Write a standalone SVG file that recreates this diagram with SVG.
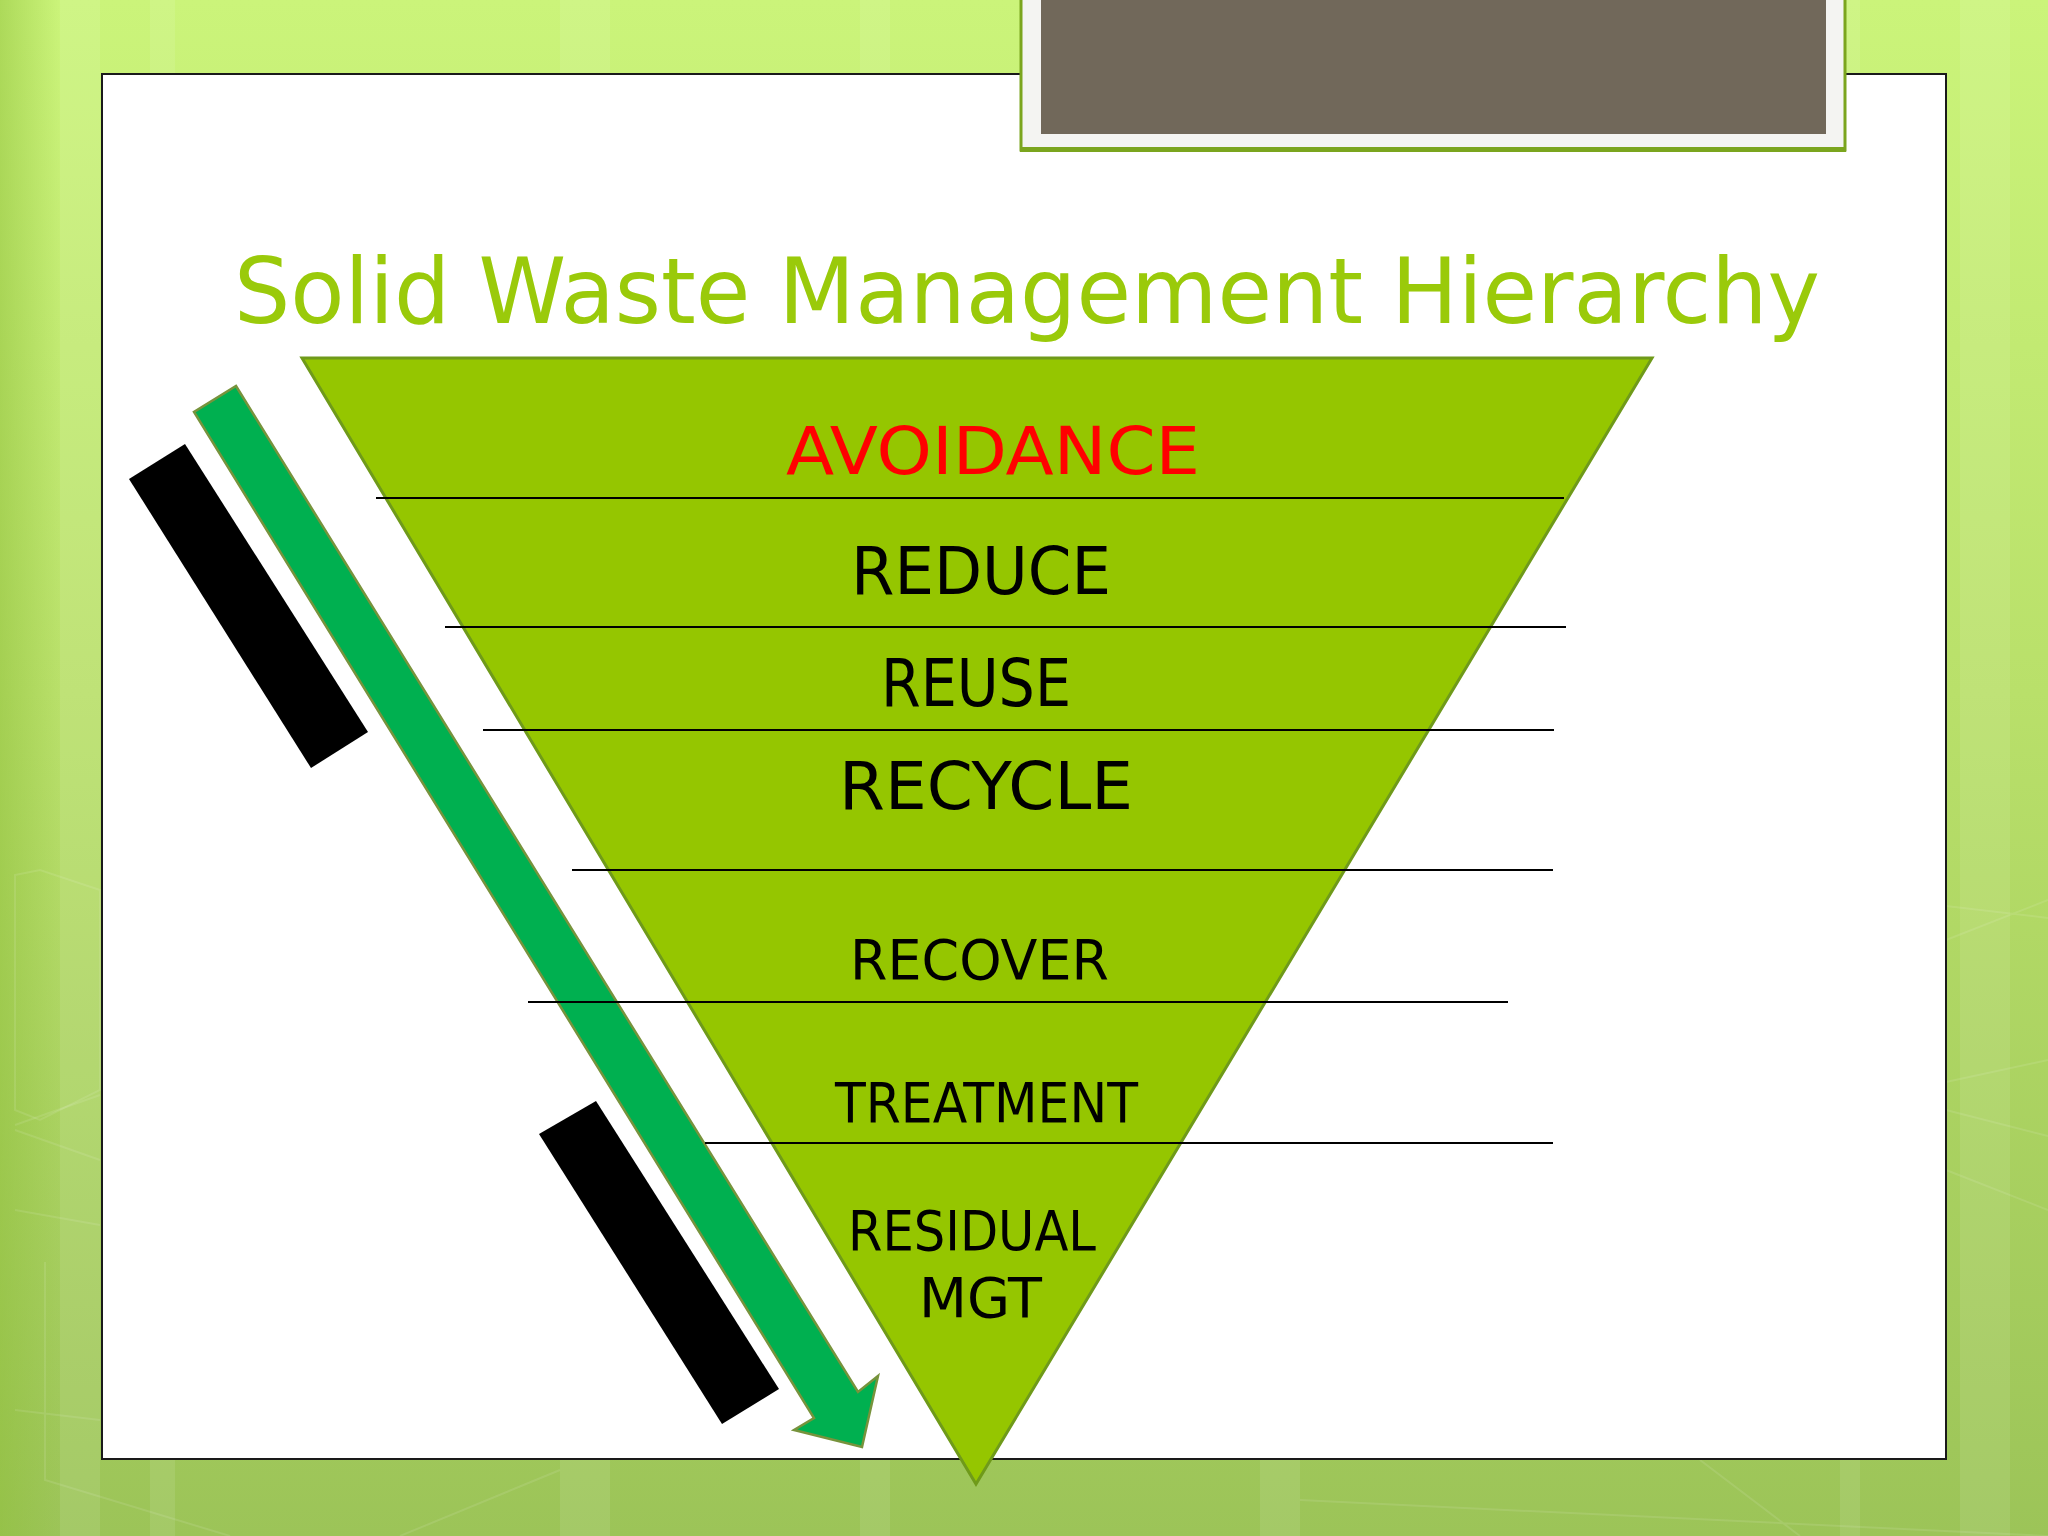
<svg xmlns="http://www.w3.org/2000/svg" width="2048" height="1536" viewBox="0 0 2048 1536">
<defs>
<linearGradient id="bg" x1="0" y1="0" x2="0" y2="1">
<stop offset="0" stop-color="#cbf47a"/>
<stop offset="0.45" stop-color="#b9e06a"/>
<stop offset="1" stop-color="#9cc458"/>
</linearGradient>
<linearGradient id="edge" x1="0" y1="0" x2="1" y2="0">
<stop offset="0" stop-color="#8fbf3a" stop-opacity="0.5"/>
<stop offset="1" stop-color="#8fbf3a" stop-opacity="0"/>
</linearGradient>
<style>
.lbl{font-family:"DejaVu Sans","Liberation Sans",sans-serif;fill:#000000}
.big{font-size:66px}
.small{font-size:55px}
.sep{stroke:#000000;stroke-width:2}
.stripe{fill:#ffffff;opacity:0.09}
.deco{stroke:#ffffff;stroke-width:2;opacity:0.1;fill:none}
</style>
</defs>
<g id="background">
<rect x="0" y="0" width="2048" height="1536" fill="url(#bg)"/>
<rect x="0" y="0" width="60" height="1536" fill="url(#edge)"/>
<rect class="stripe" x="60" y="0" width="40" height="1536"/>
<rect class="stripe" x="150" y="0" width="25" height="1536"/>
<rect class="stripe" x="560" y="0" width="50" height="1536"/>
<rect class="stripe" x="860" y="0" width="30" height="1536"/>
<rect class="stripe" x="1260" y="0" width="40" height="1536"/>
<rect class="stripe" x="1960" y="0" width="50" height="1536"/>
<rect class="stripe" x="1840" y="0" width="20" height="1536"/>
<path class="deco" d="M15 875 L40 870 L100 890 L100 1090 L40 1120 L15 1110 Z"/>
<path class="deco" d="M15 1125 L100 1095 M15 1130 L100 1160 M15 1210 L100 1225 M45 1262 L45 1480 L230 1536 M15 1410 L100 1420"/>
<path class="deco" d="M1946 906 L2048 918 M1946 940 L2048 900 M1946 1082 L2048 1060 M1946 1110 L2048 1136 M1946 1170 L2048 1210 M400 1536 L560 1470 M1700 1460 L1800 1536 M1300 1500 L2048 1536"/>
</g>
<g id="panel">
<rect x="102" y="74" width="1844" height="1385" fill="#ffffff" stroke="#1a1a1a" stroke-width="2"/>
</g>
<g id="photo-frame">
<rect x="1021" y="-4" width="824" height="154" fill="#f4f4f2" stroke="#7ba51e" stroke-width="3"/>
<rect x="1020" y="147" width="826" height="5" fill="#7ba51e"/>
<rect x="1041" y="0" width="785" height="134" fill="#71685a"/>
</g>
<g id="title">
<text x="234" y="323" font-family="DejaVu Sans, Liberation Sans, sans-serif" font-size="90" fill="#9aca0a" textLength="1586" lengthAdjust="spacingAndGlyphs">Solid Waste Management Hierarchy</text>
</g>
<g id="black-bar-1">
<polygon points="129,479 185,444 368,732 311,768" fill="#000000"/>
</g>
<g id="black-bar-2">
<polygon points="539,1134 596,1101 779,1389 722,1424" fill="#000000"/>
</g>
<g id="hierarchy-triangle">
<polygon points="302,358 1652,358 976,1484" fill="#95c600" stroke="#6f9a1a" stroke-width="3" stroke-linejoin="miter"/>
</g>
<g id="connectors">
<polygon id="down-arrow" points="236,386 858,1392 878,1376 862,1447 794,1430 814,1418 194,412" fill="#00b050" stroke="#77933c" stroke-width="2.5" stroke-linejoin="miter"/>
</g>
<g id="separators">
<line class="sep" x1="376" y1="498" x2="1564" y2="498"/>
<line class="sep" x1="445" y1="627" x2="1566" y2="627"/>
<line class="sep" x1="483" y1="730" x2="1554" y2="730"/>
<line class="sep" x1="572" y1="870" x2="1553" y2="870"/>
<line class="sep" x1="528" y1="1002" x2="1508" y2="1002"/>
<line class="sep" x1="705" y1="1143" x2="1553" y2="1143"/>
</g>
<g id="node-avoidance">
<text class="lbl big" x="786" y="474" style="fill:#ff0000" textLength="414" lengthAdjust="spacingAndGlyphs">AVOIDANCE</text>
</g>
<g id="node-reduce">
<text class="lbl big" x="851" y="594" textLength="260" lengthAdjust="spacingAndGlyphs">REDUCE</text>
</g>
<g id="node-reuse">
<text class="lbl big" x="881" y="706" textLength="190" lengthAdjust="spacingAndGlyphs">REUSE</text>
</g>
<g id="node-recycle">
<text class="lbl big" x="839" y="809" textLength="294" lengthAdjust="spacingAndGlyphs">RECYCLE</text>
</g>
<g id="node-recover">
<text class="lbl small" x="850" y="979" textLength="259" lengthAdjust="spacingAndGlyphs">RECOVER</text>
</g>
<g id="node-treatment">
<text class="lbl small" x="835" y="1122" textLength="303" lengthAdjust="spacingAndGlyphs">TREATMENT</text>
</g>
<g id="node-residual">
<text class="lbl small" x="848" y="1250" textLength="248" lengthAdjust="spacingAndGlyphs">RESIDUAL</text>
<text class="lbl small" x="919" y="1317" textLength="123" lengthAdjust="spacingAndGlyphs">MGT</text>
</g>
</svg>
